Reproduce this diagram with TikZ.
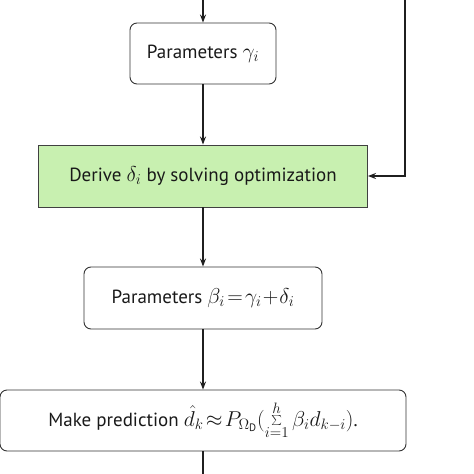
\documentclass[tikz,border=0pt]{standalone}
\usepackage{fix-cm}
\usepackage{fontspec}
\setmainfont{PT Sans}
\usetikzlibrary{arrows.meta}
\newcommand\bigmath[1]{{\fontsize{21.5}{24}\selectfont$#1$}}
\begin{document}
\begin{tikzpicture}[x=1pt,y=-1pt,
  every node/.style={font=\fontsize{19}{22}\selectfont, text=black!90},
  rbox/.style={draw=black!80, line width=0.9pt, rounded corners=7pt, inner sep=0pt},
  gbox/.style={draw=black!75, line width=0.9pt, inner sep=0pt},
  flow/.style={draw=black!88, line width=1.4pt, -{Stealth[length=8pt,width=6pt]}},
  plain/.style={draw=black!88, line width=1.4pt}]
\useasboundingbox (0,0) rectangle (474,474);
\node[rbox, minimum width=146pt, minimum height=61pt] (b1) at (203,53.5) {Parameters \bigmath{\gamma_i}};
\node[gbox, fill={rgb,255:red,200;green,240;blue,176}, minimum width=329pt, minimum height=62pt] (b2) at (203,176) {Derive \bigmath{\delta_i} by solving optimization};
\node[rbox, minimum width=238pt, minimum height=62pt] (b3) at (203,298) {Parameters \bigmath{\beta_i\!=\!\gamma_i\!+\!\delta_i}};
\node[rbox, minimum width=406pt, minimum height=61pt] (b4) at (203,420.5) {Make prediction\ \bigmath{\hat{d}_k\!\approx\! P_{\Omega_{\mathrm{D}}}(\sum\limits_{i=1}^{h}\beta_i d_{k-i})}.};
\coordinate (top) at (203,0);
\coordinate (fbtop) at (405,0);
\coordinate (bot) at (203,474);
\draw[flow] (top) -- (b1.north);
\draw[flow] (b1.south) -- (b2.north);
\draw[flow] (b2.south) -- (b3.north);
\draw[flow] (b3.south) -- (b4.north);
\draw[plain] (b4.south) -- (bot);
\draw[flow] (fbtop) |- (b2.east);
\end{tikzpicture}
\end{document}
